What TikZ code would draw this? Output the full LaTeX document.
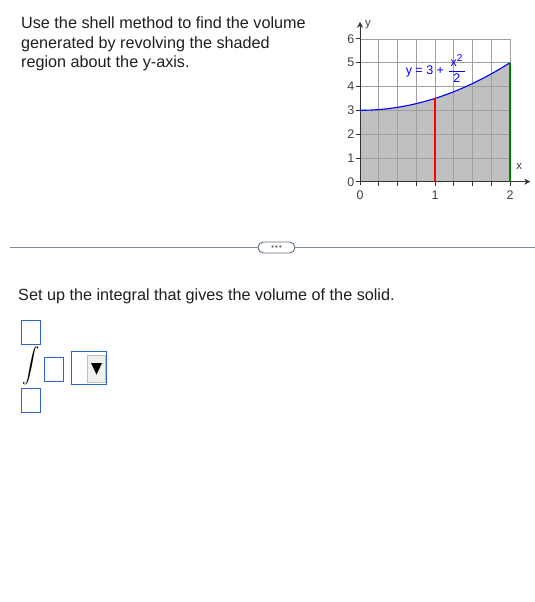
\documentclass[tikz,border=0pt]{standalone}
\usepackage{amsmath}
\usepackage{fontspec}
\setmainfont{Liberation Sans}
\usetikzlibrary{arrows.meta}

\definecolor{boxblu}{RGB}{45,100,205}
\definecolor{grigliagr}{RGB}{160,160,160}
\definecolor{areagr}{RGB}{192,192,192}
\definecolor{verde}{RGB}{0,128,0}
\definecolor{pillgr}{RGB}{95,110,125}

\tikzset{
  testo/.style={anchor=base west,inner sep=0pt,text=black!88,font=\fontsize{16.2}{18}\selectfont},
  numero/.style={inner sep=0pt,text=black!75,font=\fontsize{12.5}{14}\selectfont},
  asse/.style={draw=black!80,line width=0.9pt,-{Stealth[length=6pt,width=6pt]}},
  casella/.style={draw=boxblu,line width=1.2pt,inner sep=0pt,minimum width=18.6pt,minimum height=23.6pt},
}

\begin{document}
\begin{tikzpicture}[x=1pt,y=-1pt]
  \useasboundingbox (0,0) rectangle (535,602);

  %testo della domanda
  \node[testo] (q1) at (21,29) {Use the shell method to find the volume};
  \node[testo] (q2) at (21,48.5) {generated by revolving the shaded};
  \node[testo] (q3) at (21,67.5) {region about the y-axis.};

  %grafico
  \begin{scope}[shift={(360,181.7)},x=75pt,y=23.8pt]
    \fill[areagr] (0,0) -- plot[domain=0:2,samples=60] (\x,{3+\x*\x/2}) -- (2,0) -- cycle;
    \draw[grigliagr,line width=0.8pt] (0,0) grid[xstep=0.25,ystep=1] (2,6);

    %assi
    \coordinate (xs) at (-0.04,0);
    \coordinate (xe) at (2.27,0);
    \coordinate (ys) at (0,-0.15);
    \coordinate (ye) at (0,6.72);
    \draw[asse] (xs) -- (xe);
    \draw[asse] (ys) -- (ye);
    \node[numero,font=\fontsize{11.5}{12}\selectfont] (lx) at (2.124,0.63) {x};
    \node[numero,font=\fontsize{11.5}{12}\selectfont] (ly) at (0.107,6.58) {y};

    %tacche
    \foreach \i in {0.25,0.5,...,2}
      \draw[black!80,line width=0.8pt] (\i,0) -- (\i,-0.17);
    \foreach \j in {0,...,6}
      \draw[black!80,line width=0.8pt] (0,\j) -- (-0.05,\j) node[numero,anchor=east,xshift=-1.5pt] (ny\j) {\j};
    \foreach \i in {0,1,2}
      \node[numero] (nx\i) at (\i,-0.56) {\i};

    %curva e segmenti
    \draw[blue,line width=1.1pt] plot[domain=0:2,samples=60] (\x,{3+\x*\x/2});
    \coordinate (r0) at (1,0);
    \coordinate (r1) at (1,3.5);
    \coordinate (g0) at (2,0);
    \coordinate (g1) at (2,5);
    \draw[red,line width=2.2pt] (r0) -- (r1);
    \draw[verde,line width=2.2pt] (g0) -- (g1);
    \node[blue,inner sep=0pt,font=\fontsize{12.5}{14}\selectfont] (eq) at (1.013,4.75)
      {$\text{y = 3 + }\genfrac{}{}{0.7pt}{0}{\,\text{x}^{\text{\fontsize{10}{10}\selectfont 2}}\,}{\text{2}}$};
  \end{scope}

  %separatore
  \coordinate (sl) at (10,247.5);
  \coordinate (sr) at (535,247.5);
  \node[draw=pillgr,fill=white,line width=0.9pt,rounded corners=5.5pt,minimum width=37pt,minimum height=11pt,inner sep=0pt,text=black!70,font=\fontsize{7.5}{7.5}\selectfont] (pill) at (276.5,247.5) {•\,•\,•};
  \draw[pillgr!80,line width=0.8pt] (sl) -- (pill.west);
  \draw[pillgr!80,line width=0.8pt] (pill.east) -- (sr);

  \node[testo] (q4) at (18,300) {Set up the integral that gives the volume of the solid.};

  %integrale
  \node[casella] (sup1) at (31,332.5) {};
  \node[inner sep=0pt,font=\fontsize{17}{17}\selectfont] (intg) at (31,366) {$\displaystyle\int$};
  \node[casella] (inf1) at (31,400.3) {};
  \node[casella,minimum width=19pt,minimum height=24pt] (fun) at (53.8,369.3) {};
  \node[casella,minimum width=35pt,minimum height=33pt] (menu) at (89.2,367.7) {};
  \node[draw=black!25,fill=black!6,line width=0.8pt,inner sep=0pt,minimum width=18pt,minimum height=27pt] (btn) at (96.5,368.8) {};
  \fill ([shift={(-5.5,-5.8)}]btn.center) -- ([shift={(5.5,-5.8)}]btn.center) -- ([shift={(0,5.8)}]btn.center) -- cycle;
\end{tikzpicture}
\end{document}
